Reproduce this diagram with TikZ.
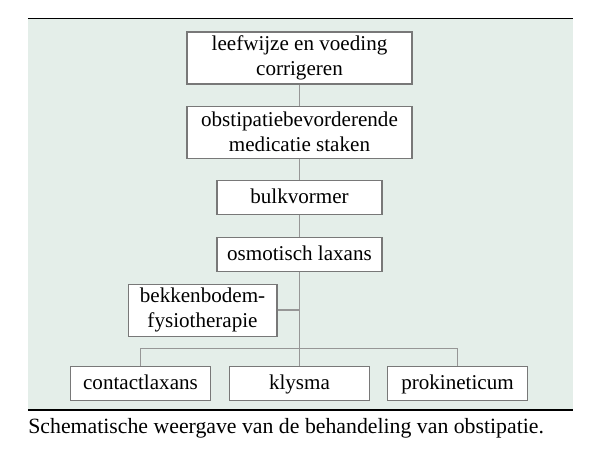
\documentclass[tikz,border=0pt]{standalone}
\usepackage{fontspec}
\setmainfont{Liberation Serif}
\usetikzlibrary{positioning,calc}
\definecolor{panelgreen}{RGB}{228,238,233}
\definecolor{boxgray}{RGB}{120,120,120}
\definecolor{linegray}{RGB}{150,150,150}
\tikzset{
  treat-node/.style={draw=boxgray, line width=0.6pt, fill=white,
    minimum width=3.3cm, minimum height=0.68cm, align=center,
    inner sep=2pt, font=\fontsize{12}{14.5}\selectfont},
  single-line/.style={text height=1.9ex, text depth=0.25ex},
  wide-node/.style={treat-node, minimum width=4.5cm, minimum height=1.04cm},
  leaf-node/.style={treat-node, single-line, minimum width=2.8cm},
  link-line/.style={draw=linegray, line width=0.8pt},
  rule-line/.style={draw=black, line width=1pt},
  caption-text/.style={font=\fontsize{12.4}{15}\selectfont, inner sep=0pt, anchor=base west}
}

\begin{document}
\begin{tikzpicture}[x=0.02cm, y=-0.02cm, node distance=0.42cm and 0.36cm]
\useasboundingbox (0,0) rectangle (600,458);

% Panel with top and bottom rules
\fill[panelgreen] (28,19) rectangle (573,410);
\draw[rule-line] (28,18.5) -- (573,18.5);
\draw[rule-line] (28,410) -- (573,410);

% Main chain of steps
\node[wide-node] (lifestyle) at (299.5,58) {leefwijze en voeding\\corrigeren};
\node[wide-node, below=of lifestyle] (medication) {obstipatiebevorderende\\medicatie staken};
\node[treat-node, single-line, below=of medication] (bulk) {bulkvormer};
\node[treat-node, single-line, below=0.44cm of bulk] (osmotic) {osmotisch laxans};

% Side branch
\node[treat-node, below=0.24cm of osmotic, xshift=-1.94cm, minimum width=2.98cm, minimum height=1.04cm] (pelvic) {bekkenbodem-\\fysiotherapie};

% Last row of options
\node[leaf-node, below=1.88cm of osmotic] (enema) {klysma};
\node[leaf-node, left=of enema] (contact) {contactlaxans};
\node[leaf-node, right=0.34cm of enema] (prokinetic) {prokineticum};
\coordinate[above=0.34cm of enema] (split);

% Connections
\draw[link-line] (lifestyle) -- (medication);
\draw[link-line] (medication) -- (bulk);
\draw[link-line] (bulk) -- (osmotic);
\draw[link-line] (osmotic) -- (enema);
\draw[link-line] (pelvic.east) -- (pelvic.east -| osmotic.south);
\draw[link-line] (contact) |- (split) -| (prokinetic);

% Caption
\node[caption-text] (caption) at (28,433) {Schematische weergave van de behandeling van obstipatie.};
\end{tikzpicture}
\end{document}
